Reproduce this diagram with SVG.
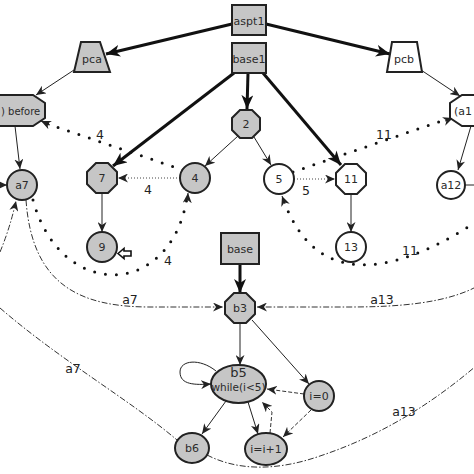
<svg xmlns="http://www.w3.org/2000/svg" width="474" height="474" viewBox="0 0 474 474">
<style>
.g{fill:#c6c6c6;stroke:#222;stroke-width:2}
.w{fill:#fff;stroke:#222;stroke-width:2}
.t{font-family:"DejaVu Sans",sans-serif;font-size:11px;fill:#2a2a2a;text-anchor:middle;dominant-baseline:central}
.l{font-family:"DejaVu Sans",sans-serif;font-size:12.5px;fill:#222;text-anchor:middle;dominant-baseline:central}
.thick{fill:none;stroke:#111;stroke-width:3}
.thin{fill:none;stroke:#222;stroke-width:1}
.dash{fill:none;stroke:#333;stroke-width:1;stroke-dasharray:4 2}
.fdot{fill:none;stroke:#444;stroke-width:1;stroke-dasharray:1 2}
.bdot{fill:none;stroke:#111;stroke-width:3;stroke-dasharray:0 11;stroke-linecap:round}
.dd{fill:none;stroke:#333;stroke-width:1;stroke-dasharray:6 2 1.5 2}
</style>
<defs>
<marker id="ak" markerUnits="userSpaceOnUse" markerWidth="15" markerHeight="12" refX="14" refY="6" orient="auto"><path d="M0,0 L14,6 L0,12 L4,6 z" fill="#111"/></marker>
<marker id="an" markerUnits="userSpaceOnUse" markerWidth="11" markerHeight="9" refX="10" refY="4.5" orient="auto"><path d="M0,0 L10,4.5 L0,9 L3,4.5 z" fill="#222"/></marker>
</defs>
<g id="connectors">
<path class="thick" d="M232,24 L106,54" marker-end="url(#ak)"/>
<path class="thick" d="M266,24 L390,54" marker-end="url(#ak)"/>
<path class="thick" d="M248,73 L247,109" marker-end="url(#ak)"/>
<path class="thick" d="M234,73 L113,166" marker-end="url(#ak)"/>
<path class="thick" d="M263,73 L341,165" marker-end="url(#ak)"/>
<path class="thick" d="M240,264 L240,293" marker-end="url(#ak)"/>
<path class="thin" d="M77,68 L36,95" marker-end="url(#an)"/>
<path class="thin" d="M421,70 L460,96" marker-end="url(#an)"/>
<path class="thin" d="M15,126 L20,169" marker-end="url(#an)"/>
<path class="thin" d="M471,126 L458,170" marker-end="url(#an)"/>
<path class="thin" d="M238,136 L205,166" marker-end="url(#an)"/>
<path class="thin" d="M254,137 L271,165" marker-end="url(#an)"/>
<path class="thin" d="M102,193 L102,232" marker-end="url(#an)"/>
<path class="thin" d="M351,194 L351,232" marker-end="url(#an)"/>
<path class="thin" d="M240,323 L240,365" marker-end="url(#an)"/>
<path class="thin" d="M252,320 L309,384" marker-end="url(#an)"/>
<path class="thin" d="M226,401 L202,434" marker-end="url(#an)"/>
<path class="thin" d="M248,402 L258,434" marker-end="url(#an)"/>
<path class="thin" d="M216,371 C 200,358 180,360 180,372 C 180,385 195,385 211,384" marker-end="url(#an)"/>
<path class="thin" d="M-4,185 L7,185" marker-end="url(#an)"/>
<path class="thin" d="M465,185 L476,185"/>
<path class="dash" d="M304,394 L267,389" marker-end="url(#an)"/>
<path class="dash" d="M311,410 L283,437" marker-end="url(#an)"/>
<path class="dash" d="M270,433 L272,412 L262,402" marker-end="url(#an)"/>
<path class="fdot" d="M180,178 L118,178" marker-end="url(#an)"/>
<path class="fdot" d="M294,179 L335,179" marker-end="url(#an)"/>
<path class="bdot" d="M183,170 L45,123"/>
<path class="thin" d="M50,125 L41,121" stroke="none" marker-end="url(#an)"/>
<path class="bdot" d="M33,200 C 60,300 170,300 187,198"/>
<path class="thin" d="M187.5,200 L188,193" stroke="none" marker-end="url(#an)"/>
<path class="bdot" d="M293,172 L447,119"/>
<path class="thin" d="M445,121 L453,118" stroke="none" marker-end="url(#an)"/>
<path class="bdot" d="M476,222 C 410,265 320,300 284,201"/>
<path class="thin" d="M285,204 L282,196" stroke="none" marker-end="url(#an)"/>
<polygon points="118,253.5 124,248.5 124,251 131,251 131,256 124,256 124,258.5" fill="#fff" stroke="#111" stroke-width="1.6"/>
<path class="dd" d="M26,200 C 32,285 80,307 150,307 L223,307" marker-end="url(#an)"/>
<path class="dd" d="M476,287 C 445,303 400,307 350,307 L257,307" marker-end="url(#an)"/>
<path class="dd" d="M0,252 Q 10,228 16,201" marker-end="url(#an)"/>
<path class="dd" d="M0,308 C 60,360 130,400 177,440"/>
<path class="dd" d="M207,455 C 240,472 280,470 320,456 C 380,436 430,405 476,366"/>
<text class="l" x="130" y="299">a7</text>
<text class="l" x="73" y="368">a7</text>
<text class="l" x="382" y="299">a13</text>
<text class="l" x="404" y="411">a13</text>
<text class="l" x="100" y="134">4</text>
<text class="l" x="148" y="189">4</text>
<text class="l" x="168" y="260">4</text>
<text class="l" x="306" y="190">5</text>
<text class="l" x="384" y="134">11</text>
<text class="l" x="410" y="250">11</text>
</g>
<g id="aspt1"><rect class="g" x="232" y="5" width="34" height="30"/><text class="t" x="249" y="21">aspt1</text></g>
<g id="base1"><rect class="g" x="232" y="43" width="34" height="30"/><text class="t" x="249" y="59">base1</text></g>
<g id="pca"><polygon class="g" points="81,42 100,42 110,72 74,72"/><text class="t" x="92" y="59">pca</text></g>
<g id="pcb"><polygon class="w" points="392,42 417,42 422,72 387,72"/><text class="t" x="404" y="59">pcb</text></g>
<g id="before"><polygon class="g" points="-5,95 33,95 45,103 45,118 33,126 -5,126"/><text class="t" x="1" y="111" style="text-anchor:start;font-size:10px">) before</text></g>
<g id="a1"><polygon class="w" points="480,95 462,95 450,103 450,118 462,126 480,126"/><text class="t" x="454" y="111" style="text-anchor:start">(a1</text></g>
<g id="n2"><polygon class="g" points="240,110 252,110 260,118 260,130 252,138 240,138 232,130 232,118"/><text class="t" x="246" y="124">2</text></g>
<g id="n7"><polygon class="g" points="96,163 108,163 117,172 117,184 108,193 96,193 87,184 87,172"/><text class="t" x="102" y="178">7</text></g>
<g id="n4"><circle class="g" cx="195" cy="178" r="15"/><text class="t" x="195" y="178">4</text></g>
<g id="n5"><circle class="w" cx="279" cy="179" r="15"/><text class="t" x="279" y="179">5</text></g>
<g id="n11"><polygon class="w" points="345,164 357,164 366,173 366,185 357,194 345,194 336,185 336,173"/><text class="t" x="351" y="179">11</text></g>
<g id="a12"><circle class="w" cx="451" cy="185" r="14"/><text class="t" x="451" y="185">a12</text></g>
<g id="a7"><circle class="g" cx="22" cy="185" r="15"/><text class="t" x="22" y="185">a7</text></g>
<g id="n9"><circle class="g" cx="102" cy="247" r="15"/><text class="t" x="102" y="247">9</text></g>
<g id="n13"><circle class="w" cx="351" cy="247" r="15"/><text class="t" x="351" y="247">13</text></g>
<g id="base"><rect class="g" x="221" y="233" width="38" height="31"/><text class="t" x="240" y="249">base</text></g>
<g id="b3"><polygon class="g" points="234,293 246,293 255,302 255,314 246,323 234,323 225,314 225,302"/><text class="t" x="240" y="308">b3</text></g>
<g id="b5"><ellipse class="g" cx="238.5" cy="384" rx="27.5" ry="19"/><text class="t" x="238.5" y="372" style="font-size:13px">b5</text><text class="t" x="238.5" y="387" style="font-size:10.5px">while(i&lt;5)</text></g>
<g id="i0"><circle class="g" cx="319" cy="396" r="15"/><text class="t" x="319" y="396">i=0</text></g>
<g id="ii1"><ellipse class="g" cx="266" cy="449" rx="21" ry="16"/><text class="t" x="266" y="449">i=i+1</text></g>
<g id="b6"><ellipse class="g" cx="192" cy="448" rx="17" ry="15"/><text class="t" x="192" y="448">b6</text></g>
</svg>
